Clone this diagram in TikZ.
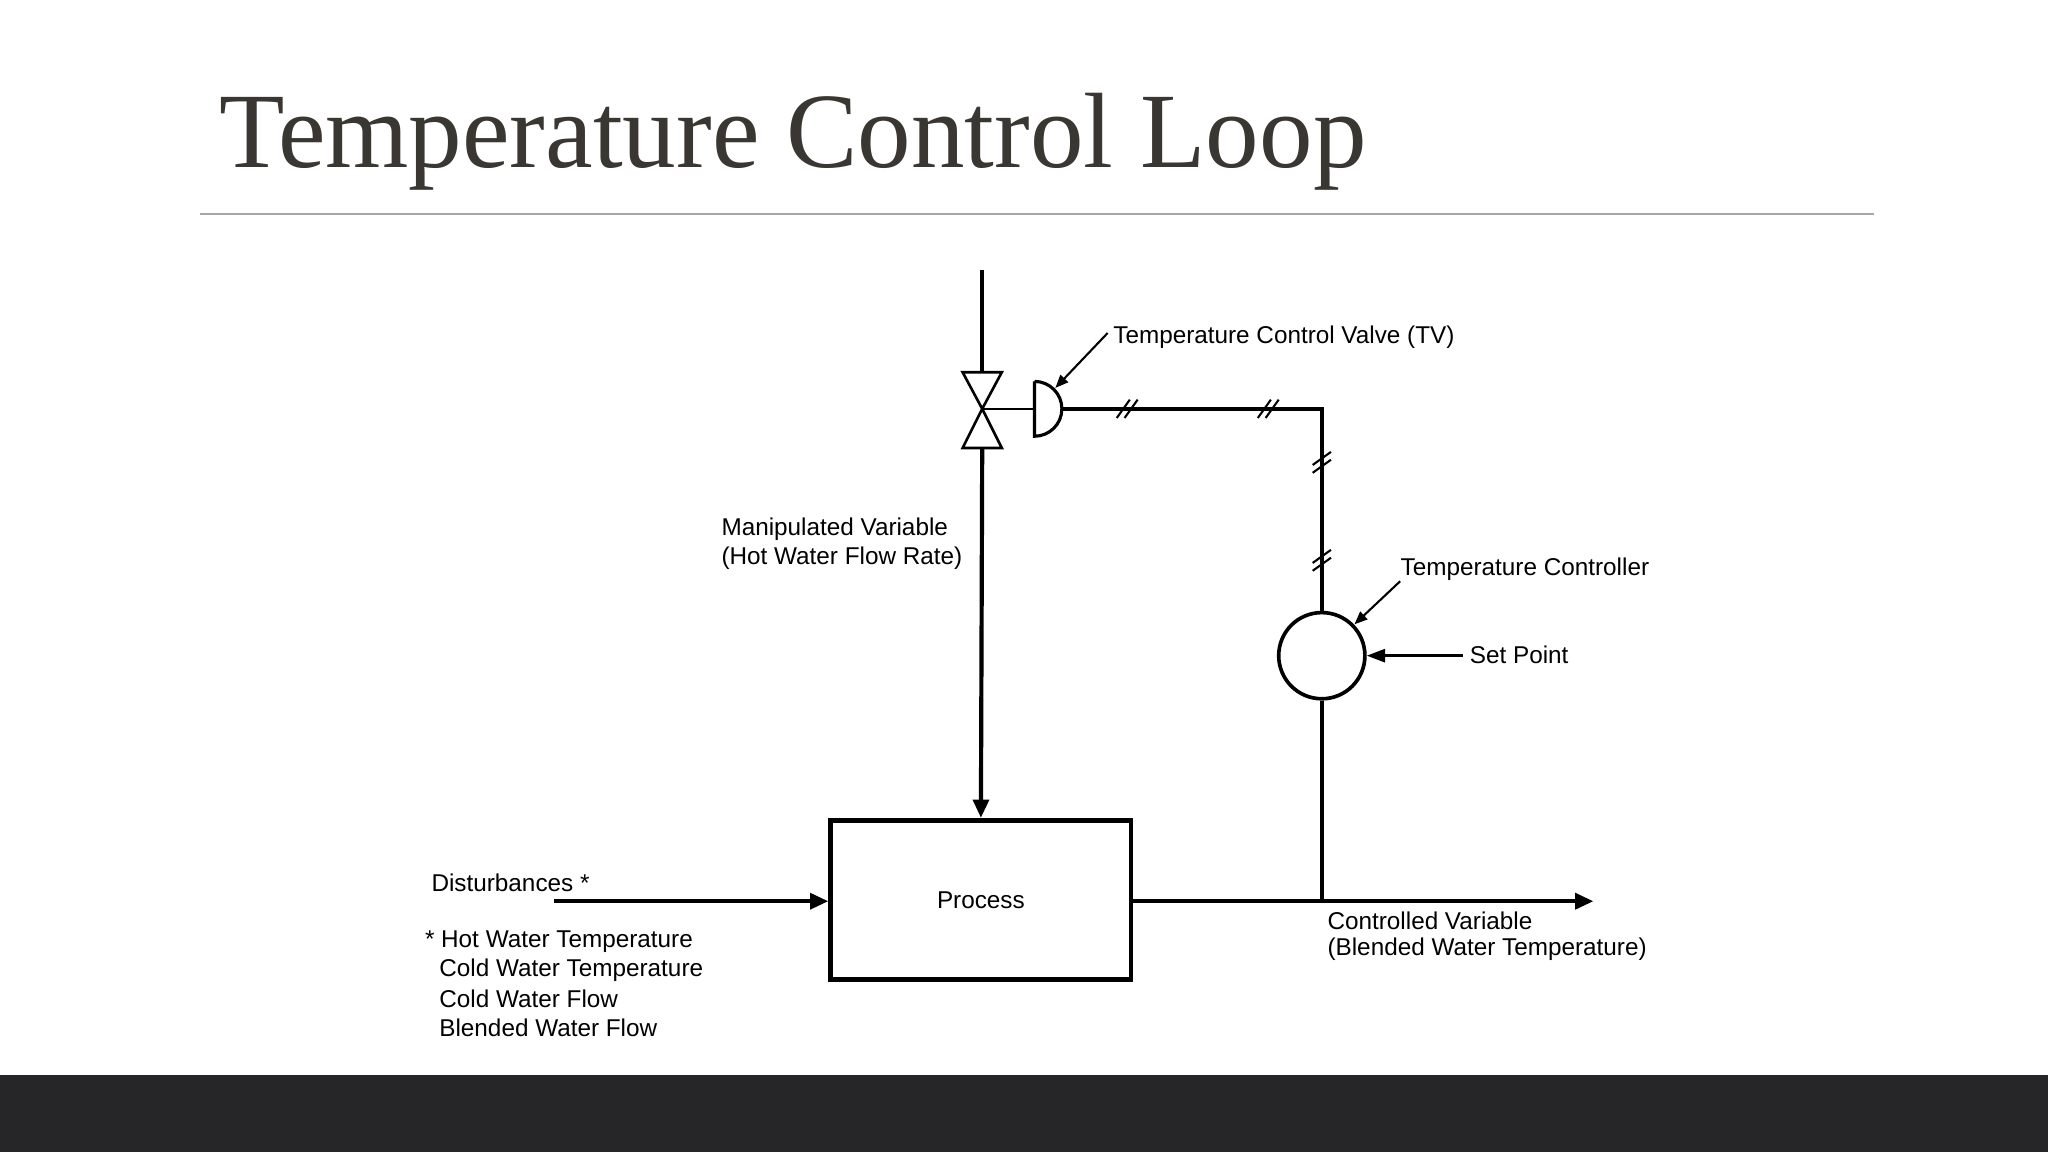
\documentclass[tikz,border=0pt]{standalone}
\usepackage{fontspec}
\setmainfont{Liberation Serif}
\newfontfamily\lblfont{Liberation Sans}
\usetikzlibrary{arrows.meta}
\definecolor{band}{HTML}{262527}
\definecolor{titlec}{HTML}{3A3631}
\tikzset{
  pipe/.style={line width=1.6pt,black},
  lbl/.style={font=\lblfont\fontsize{9.3}{11}\selectfont,anchor=west,inner sep=0pt},
  arr/.style={-{Triangle[length=7pt,width=6pt]}},
  lead/.style={line width=0.8pt,-{Triangle[length=5pt,width=4pt]}},
  hash/.style={line width=0.8pt}
}
\begin{document}
\begin{tikzpicture}[x=0.5pt,y=-0.5pt]
\useasboundingbox (0,0) rectangle (1568,882);
\fill[white] (0,0) rectangle (1568,882);
\fill[band] (0,823) rectangle (1568,882);
\node[font=\fontsize{41}{46}\selectfont,text=titlec,anchor=base west,inner sep=0pt] (title) at (168,128) {Temperature Control Loop};
\draw[gray!70,line width=0.6pt] (153,164) -- (1435,164);
% nodes
\node[draw,line width=1.8pt,minimum width=115pt,minimum height=61pt,inner sep=0pt,font=\lblfont\fontsize{9.3}{11}\selectfont] (proc) at (751,689) {Process};
\node[draw,circle,line width=1.4pt,minimum size=33pt,inner sep=0pt] (tc) at (1012,502) {};
\coordinate (vtop) at (752,207);
\coordinate (vc) at (752,313);
\coordinate (act) at (792,313);
\coordinate (corner) at (1012,313);
\coordinate (tee) at (1012,690);
% valve
\draw[pipe] (vtop) -- (752,285);
\draw[line width=1pt,fill=white] (737,285) -- (767,285) -- (vc) -- cycle;
\draw[line width=1pt,fill=white] (737,343) -- (767,343) -- (vc) -- cycle;
\draw[pipe,arr] (752,343) -- (proc.north);
\draw[line width=1pt] (vc) -- (act);
\draw[line width=1.2pt] (792,292) -- (792,334) arc[start angle=90,end angle=-90,radius=21];
% signal line
\draw[pipe] (813,313) -- (corner) -- (tc.north);
\foreach \x in {855,963}{\draw[hash] (\x,320) -- (\x+10,306); \draw[hash] (\x+6,320) -- (\x+16,306);}
\foreach \y in {352,427}{\draw[hash] (1005,\y+4) -- (1019,\y-6); \draw[hash] (1005,\y+10) -- (1019,\y);}
\draw[pipe] (tc.south) -- (tee);
% flows
\draw[pipe] (proc.east |- tee) -- (tee);
\draw[pipe,arr] (tee) -- (1220,690);
\coordinate (dist) at (424,690);
\draw[pipe,arr] (dist) -- (proc.west |- dist);
\coordinate (sp) at (1120,502);
\draw[line width=1pt,-{Triangle[length=7pt,width=5pt]}] (sp) -- (tc.east);
% leaders
\coordinate (l1) at (848,255);
\draw[lead] (l1) -- (808,297);
\coordinate (l2) at (1072,445);
\draw[lead] (l2) -- (1037,478);
% labels
\node[lbl] (t1) at (852,258) {Temperature Control Valve (TV)};
\node[lbl] (t2) at (552,405) {Manipulated Variable};
\node[lbl] (t3) at (552,427) {(Hot Water Flow Rate)};
\node[lbl] (t4) at (1072,436) {Temperature Controller};
\node[lbl] (t5) at (1125,501) {Set Point};
\node[lbl] (t6) at (330,676) {Disturbances *};
\node[lbl] (t7) at (325,721) {* Hot Water Temperature};
\node[lbl] (t8) at (336,743) {Cold Water Temperature};
\node[lbl] (t9) at (336,765) {Cold Water Flow};
\node[lbl] (t10) at (336,787) {Blended Water Flow};
\node[lbl] (t11) at (1016,705) {Controlled Variable};
\node[lbl] (t12) at (1016,727) {(Blended Water Temperature)};
\end{tikzpicture}
\end{document}
